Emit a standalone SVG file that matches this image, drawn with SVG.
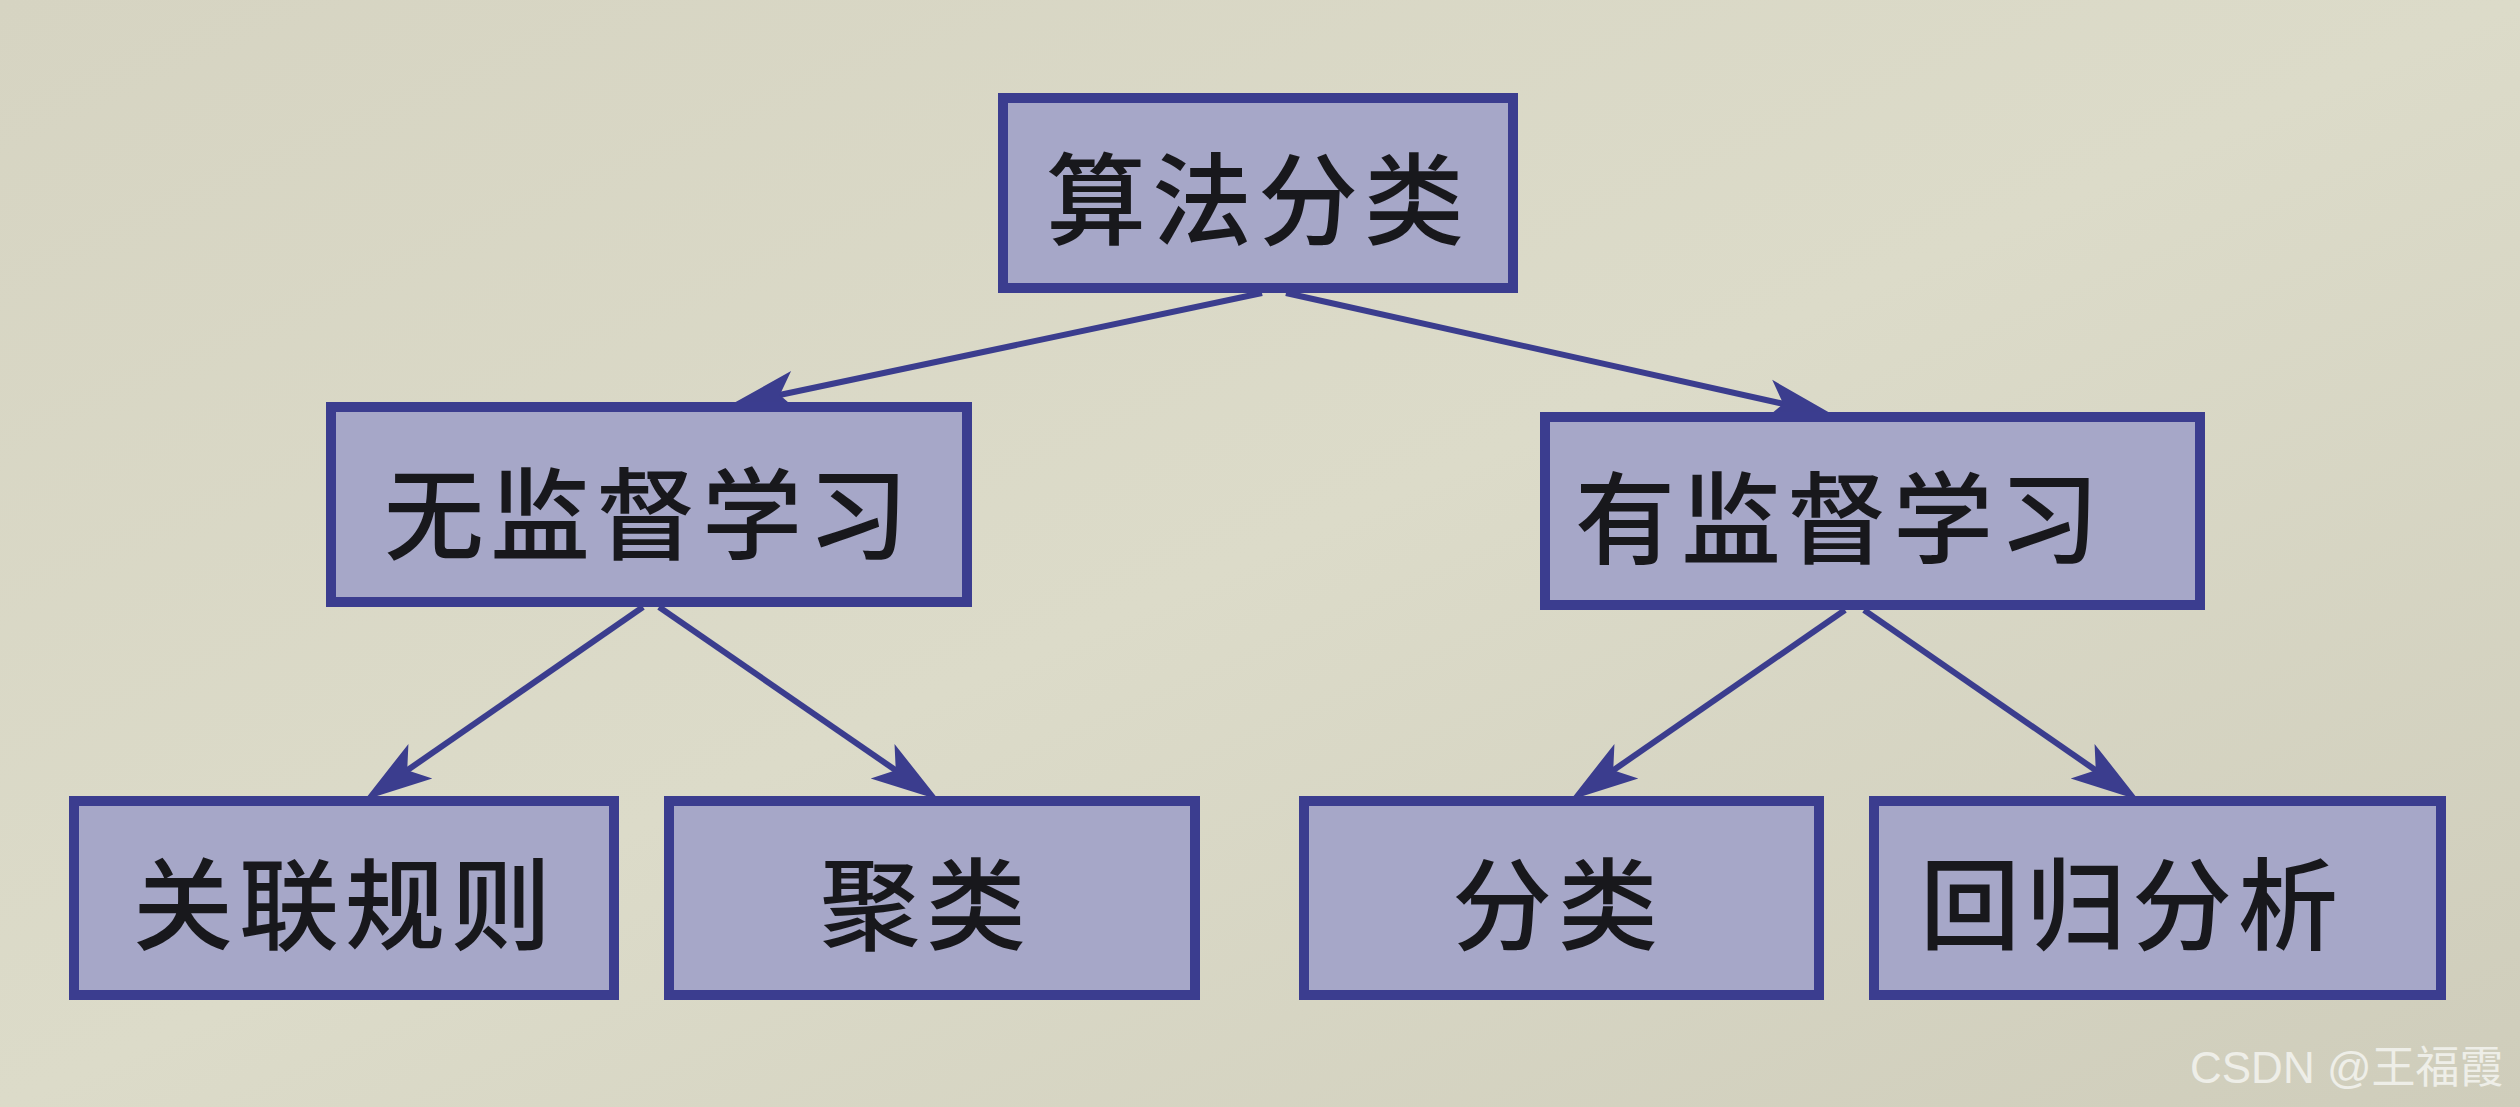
<svg xmlns="http://www.w3.org/2000/svg" width="2520" height="1107" viewBox="0 0 2520 1107">
  <defs>
    <linearGradient id="bg" x1="0" y1="0" x2="1" y2="1">
      <stop offset="0" stop-color="#d6d4c2"/>
      <stop offset="0.5" stop-color="#dcdbc9"/>
      <stop offset="1" stop-color="#cfcdbb"/>
    </linearGradient>
    <marker id="arrow" viewBox="-72 -24 76 48" refX="-42" refY="0" markerWidth="76" markerHeight="48" markerUnits="userSpaceOnUse" orient="auto">
      <path d="M0,0 L-68,-21 L-52,0 L-68,21 Z" fill="#3b3d8e"/>
    </marker>
  </defs>
  <style>
    .box { fill: #a6a7c8; stroke: #3b3d8f; stroke-width: 10; }
    .label { font-family: "Noto Sans CJK SC", "Noto Sans CJK JP", sans-serif; font-size: 100px; font-weight: 500; fill: #18181c; text-anchor: middle; dominant-baseline: central; letter-spacing: 6px; }
    .conn { stroke: #3b3d8e; stroke-width: 6; fill: none; marker-end: url(#arrow); }
    .wm { font-family: "Liberation Sans", "Noto Sans CJK SC", sans-serif; font-size: 44px; fill: #eeeee8; }
  </style>
  <rect x="0" y="0" width="2520" height="1107" fill="url(#bg)"/>

  <g id="connectors">
    <line class="conn" x1="1262" y1="293" x2="770" y2="397"/>
    <line class="conn" x1="1286" y1="293" x2="1793" y2="406"/>
    <line class="conn" x1="643" y1="607" x2="399" y2="776"/>
    <line class="conn" x1="659" y1="607" x2="904" y2="776"/>
    <line class="conn" x1="1845" y1="610" x2="1605" y2="776"/>
    <line class="conn" x1="1864" y1="610" x2="2104" y2="776"/>
  </g>

  <g id="node-root">
    <rect class="box" x="1003" y="98" width="510" height="190"/>
    <text class="label" x="1258" y="193">算法分类</text>
  </g>
  <g id="node-unsupervised">
    <rect class="box" x="331" y="407" width="636" height="195"/>
    <text class="label" x="649" y="508">无监督学习</text>
  </g>
  <g id="node-supervised">
    <rect class="box" x="1545" y="417" width="655" height="188"/>
    <text class="label" x="1840" y="512">有监督学习</text>
  </g>
  <g id="node-association">
    <rect class="box" x="74" y="801" width="540" height="194"/>
    <text class="label" x="345" y="898">关联规则</text>
  </g>
  <g id="node-clustering">
    <rect class="box" x="669" y="801" width="526" height="194"/>
    <text class="label" x="926" y="898">聚类</text>
  </g>
  <g id="node-classification">
    <rect class="box" x="1304" y="801" width="515" height="194"/>
    <text class="label" x="1558" y="898">分类</text>
  </g>
  <g id="node-regression">
    <rect class="box" x="1874" y="801" width="567" height="194"/>
    <text class="label" x="2132" y="898">回归分析</text>
  </g>

  <text class="wm" x="2190" y="1083">CSDN @王福霞</text>
</svg>
